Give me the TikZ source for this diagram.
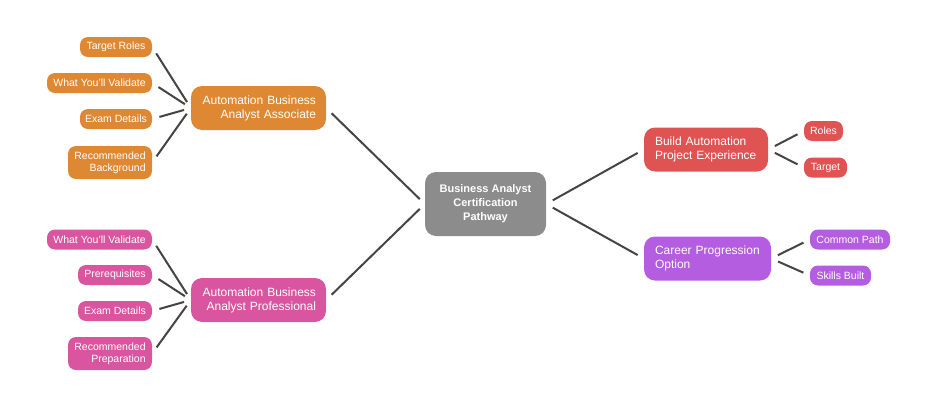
\documentclass[tikz,border=0pt]{standalone}
\usepackage{fontspec}
\setmainfont{Liberation Sans}
\definecolor{corange}{HTML}{DF8833}
\definecolor{cpink}{HTML}{D9559F}
\definecolor{cred}{HTML}{E05353}
\definecolor{cpurple}{HTML}{B55DE0}
\definecolor{cgray}{HTML}{8C8C8C}
\definecolor{cline}{HTML}{444444}
\begin{document}
\begin{tikzpicture}[x=1pt,y=-1pt,
  base/.style={text=white, inner sep=2pt, draw=none},
  leaf/.style={base, rounded corners=8pt, minimum height=20pt, font=\fontsize{10.5}{12}\selectfont, align=right},
  parent/.style={base, rounded corners=11pt, minimum height=44pt, font=\fontsize{12}{14}\selectfont},
  lpar/.style={parent, minimum width=135pt, text width=115pt, align=right},
  rpar/.style={parent, text width=#1, align=left, inner xsep=11pt},
  root/.style={base, rounded corners=11pt, minimum height=64pt, minimum width=121pt, font=\fontsize{11}{14}\selectfont\bfseries, align=center, fill=cgray},
  conn/.style={draw=cline, line width=2pt, shorten <=7.5pt, shorten >=7pt}
]
\useasboundingbox (0,0) rectangle (930,410);
% root
\node[root] (c) at (485.5,204) {Business Analyst\\Certification\\Pathway};
% main branches
\node[lpar, fill=corange] (asc) at (258.5,108) {Automation Business\\Analyst Associate};
\node[lpar, fill=cpink] (pro) at (258.5,300) {Automation Business\\Analyst Professional};
\node[rpar=102pt, fill=cred] (bld) at (706,149.5) {Build Automation\\Project Experience};
\node[rpar=105pt, fill=cpurple] (car) at (707.5,258.5) {Career Progression\\Option};
% orange leaves
\node[leaf, fill=corange, minimum width=72pt] (a1) at (116,47) {Target Roles};
\node[leaf, fill=corange, minimum width=105pt] (a2) at (99.5,83) {What You'll Validate};
\node[leaf, fill=corange, minimum width=72pt] (a3) at (116,119) {Exam Details};
\node[leaf, fill=corange, minimum width=84pt, minimum height=33pt] (a4) at (110,162.5) {Recommended\\Background};
% pink leaves
\node[leaf, fill=cpink, minimum width=105pt] (p1) at (99.5,239.5) {What You'll Validate};
\node[leaf, fill=cpink, minimum width=74pt] (p2) at (115,275) {Prerequisites};
\node[leaf, fill=cpink, minimum width=74pt] (p3) at (115,311) {Exam Details};
\node[leaf, fill=cpink, minimum width=84pt, minimum height=33pt] (p4) at (110,353.5) {Recommended\\Preparation};
% red leaves
\node[leaf, fill=cred, minimum width=39pt] (b1) at (823.5,131) {Roles};
\node[leaf, fill=cred, minimum width=43pt] (b2) at (825.5,167.5) {Target};
% purple leaves
\node[leaf, fill=cpurple, minimum width=80pt] (r1) at (850,239.5) {Common Path};
\node[leaf, fill=cpurple, minimum width=61pt] (r2) at (840.5,275.5) {Skills Built};
% connectors
\foreach \l in {a1,a2,a3,a4} \draw[conn] (\l.east) -- (asc.west);
\foreach \l in {p1,p2,p3,p4} \draw[conn] (\l.east) -- (pro.west);
\draw[conn] (asc.east) -- (c.west);
\draw[conn] (pro.east) -- (c.west);
\draw[conn] (c.east) -- (bld.west);
\draw[conn] (c.east) -- (car.west);
\draw[conn] (bld.east) -- (b1.west);
\draw[conn] (bld.east) -- (b2.west);
\draw[conn] (car.east) -- (r1.west);
\draw[conn] (car.east) -- (r2.west);
\end{tikzpicture}
\end{document}
